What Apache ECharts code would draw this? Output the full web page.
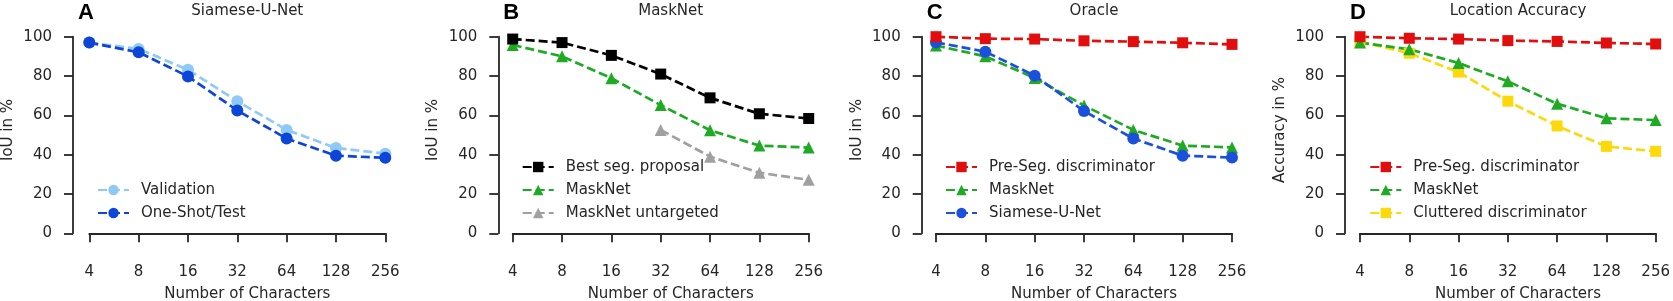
<!DOCTYPE html>
<html>
<head>
<meta charset="utf-8">
<script src="https://cdn.jsdelivr.net/npm/echarts@6/dist/echarts.min.js"></script>
<style>
  html, body { margin: 0; padding: 0; background: #fff; }
  #main { width: 1673px; height: 301px; }
</style>
</head>
<body>
<div id="main"></div>
<script>
// x axis: number of characters
var characters = ['4', '8', '16', '32', '64', '128', '256'];

// A - Siamese-U-Net
var siameseValidation = [97, 93.8, 83.2, 67.2, 52.6, 43.4, 40.5];
var siameseTest = [97, 92.1, 79.8, 62.5, 48.2, 39.5, 38.4];
// B - MaskNet
var bestSegProposal = [98.8, 97, 90.5, 81, 68.9, 60.8, 58.4];
var maskNetIoU = [95.8, 90, 78.9, 65.2, 52.4, 44.6, 43.6];
var maskNetUntargeted = ['-', '-', '-', 52.6, 39, 30.8, 27.2];
// C - Oracle
var oraclePreSeg = [100, 99, 98.8, 97.9, 97.5, 96.9, 96.1];
var oracleMaskNet = [95.5, 90, 79, 65, 52.6, 44.6, 43.7];
var oracleSiamese = [97.1, 92.4, 80.2, 62.2, 48.2, 39.5, 38.5];
// D - Location Accuracy
var locPreSeg = [100, 99.2, 98.8, 98, 97.6, 96.8, 96.3];
var locMaskNet = [97, 93.6, 86.6, 77.3, 65.9, 58.5, 57.6];
var locCluttered = [97.5, 91.6, 82, 67.2, 54.6, 44.2, 41.7];

var TXT = '#262626';
var FONT = 'DejaVu Sans';

// 每个子图的位置(第一个刻度的x坐标, y轴线的x坐标)
var panelLeft = [89.3, 512.7, 936, 1360];
var spineX = [73, 498.3, 921.7, 1345];
var panelTitles = ['Siamese-U-Net', 'MaskNet', 'Oracle', 'Location Accuracy'];
var panelLetters = ['A', 'B', 'C', 'D'];
var yNames = ['IoU in %', 'IoU in %', 'IoU in %', 'Accuracy in %'];
var plotW = 296, plotTop = 36.7, plotH = 196.6;

var grids = [], xAxes = [], yAxes = [], graphics = [];
for (var i = 0; i < 4; i++) {
  grids.push({left: panelLeft[i], top: plotTop, width: plotW, height: plotH, containLabel: false});
  xAxes.push({
    type: 'category', gridIndex: i, data: characters, boundaryGap: false,
    offset: 10.7,
    axisLine: {lineStyle: {color: TXT, width: 1.8}},
    axisTick: {length: 9, lineStyle: {color: TXT, width: 1.8}},
    axisLabel: {color: TXT, fontSize: 15, fontFamily: FONT, margin: 21},
    splitLine: {show: false}
  });
  yAxes.push({
    type: 'value', gridIndex: i, min: 0, max: 100, interval: 20,
    offset: panelLeft[i] - spineX[i],
    axisLine: {show: true, lineStyle: {color: TXT, width: 1.8}},
    axisTick: {show: true, length: 9, lineStyle: {color: TXT, width: 1.8}},
    axisLabel: {color: TXT, fontSize: 15, fontFamily: FONT, margin: 21},
    splitLine: {show: false}
  });
  var cx = panelLeft[i] + plotW / 2 + 10;
  graphics.push({type: 'text', x: cx, y: 11, style: {text: panelTitles[i], fill: TXT, font: '15px "DejaVu Sans"', textAlign: 'center', textVerticalAlign: 'middle'}});
  graphics.push({type: 'text', x: spineX[i] + 5, y: 12.5, style: {text: panelLetters[i], fill: '#000', font: 'bold 22px "Liberation Sans"', textAlign: 'left', textVerticalAlign: 'middle'}});
  graphics.push({type: 'text', x: cx, y: 294, style: {text: 'Number of Characters', fill: TXT, font: '15px "DejaVu Sans"', textAlign: 'center', textVerticalAlign: 'middle'}});
  graphics.push({type: 'text', x: spineX[i] - 65, y: 130, rotation: Math.PI / 2, style: {text: yNames[i], fill: TXT, font: '15px "DejaVu Sans"', textAlign: 'center', textVerticalAlign: 'middle'}});
}

function line(name, data, idx, color, symbol, size) {
  return {
    name: name, type: 'line', data: data,
    xAxisIndex: idx, yAxisIndex: idx,
    symbol: symbol, symbolSize: size,
    showSymbol: true,
    lineStyle: {color: color, width: 2.7, type: [9, 4]},
    itemStyle: {color: color},
    connectNulls: false
  };
}

var legendIconLeft = [97, 521.7, 945, 1369.3];
var legendTop = [182.5, 159.5, 159.5, 159.5];
var legendData = [
  ['Validation', 'One-Shot/Test'],
  ['Best seg. proposal', 'MaskNet', 'MaskNet untargeted'],
  ['Pre-Seg. discriminator', 'MaskNet', 'Siamese-U-Net'],
  ['Pre-Seg. discriminator', 'MaskNet', 'Cluttered discriminator']
];
var legends = [];
for (var j = 0; j < 4; j++) {
  legends.push({
    data: legendData[j], orient: 'vertical', left: legendIconLeft[j], top: legendTop[j],
    padding: 0, itemWidth: 31, itemHeight: 13, itemGap: 8,
    selectedMode: false,
    textStyle: {color: TXT, fontSize: 15, fontFamily: FONT, lineHeight: 15, padding: [0, 0, 0, 7]}
  });
}

var chart = echarts.init(document.getElementById('main'));
chart.setOption({
  animation: false,
  backgroundColor: '#fff',
  grid: grids,
  xAxis: xAxes,
  yAxis: yAxes,
  legend: legends,
  graphic: graphics,
  series: [
    line('Validation', siameseValidation, 0, '#8fcaf7', 'circle', 12),
    line('One-Shot/Test', siameseTest, 0, '#0c45d8', 'circle', 12),

    line('MaskNet untargeted', maskNetUntargeted, 1, '#a0a0a0', 'triangle', 12),
    line('MaskNet', maskNetIoU, 1, '#1faa24', 'triangle', 12),
    line('Best seg. proposal', bestSegProposal, 1, '#000000', 'rect', 11),

    line('MaskNet', oracleMaskNet, 2, '#1faa24', 'triangle', 12),
    line('Siamese-U-Net', oracleSiamese, 2, '#1a50dc', 'circle', 12),
    line('Pre-Seg. discriminator', oraclePreSeg, 2, '#e20d0d', 'rect', 11),

    line('Cluttered discriminator', locCluttered, 3, '#fdd80a', 'rect', 11),
    line('MaskNet', locMaskNet, 3, '#1faa24', 'triangle', 12),
    line('Pre-Seg. discriminator', locPreSeg, 3, '#e20d0d', 'rect', 11)
  ]
});
</script>
</body>
</html>
